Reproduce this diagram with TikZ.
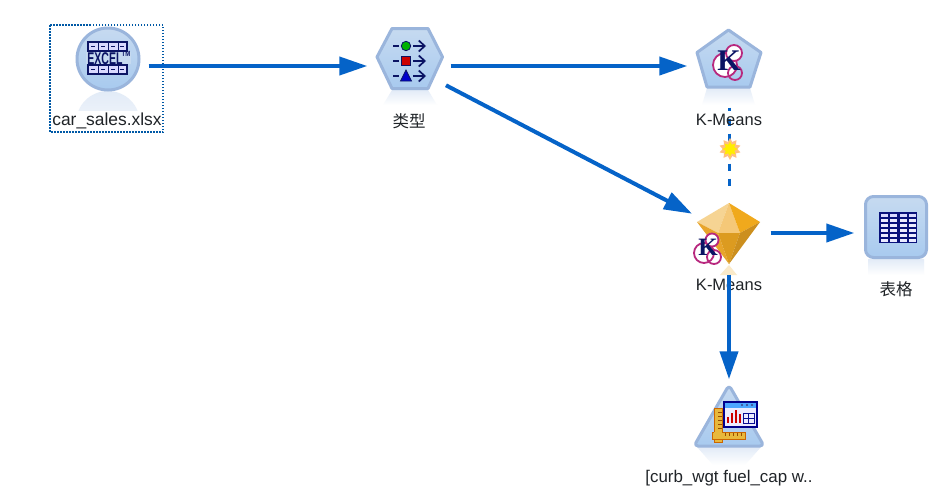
\documentclass[tikz,border=0pt]{standalone}
\usepackage{fontspec}
\setmainfont{Liberation Sans}
\newfontfamily\cjkfont{Noto Sans CJK SC}
\newfontfamily\kfont{Liberation Serif}
\usetikzlibrary{arrows.meta,shapes.geometric}
\definecolor{flow}{HTML}{0563C8}
\definecolor{navy}{HTML}{0B1464}
\definecolor{rim}{HTML}{9AB5DC}
\definecolor{ink}{HTML}{202428}
\definecolor{ringc}{HTML}{B8287E}
\definecolor{refl}{HTML}{E2EBF7}
\definecolor{bodytop}{HTML}{C6DAF0}
\definecolor{bodybot}{HTML}{A8CAEF}
\definecolor{gemA}{HTML}{F6D493}
\definecolor{gemB}{HTML}{F5C878}
\definecolor{gemC}{HTML}{F0A91C}
\definecolor{gemD}{HTML}{E8A52B}
\definecolor{gemE}{HTML}{DC9B20}
\definecolor{gemF}{HTML}{CC8F1E}
\definecolor{ruler}{HTML}{E8B83C}
\tikzset{
  port/.style={circle,minimum size=83pt,inner sep=0pt},
  flowline/.style={draw=flow,line width=4pt,-{Triangle[length=28pt,width=18pt]}},
  linkline/.style={draw=flow,line width=3pt,dash pattern=on 7.5pt off 7.5pt,dash phase=4pt},
  lab/.style={font=\fontsize{#1}{18}\selectfont,text=ink,inner sep=0pt,anchor=base},
  cjklab/.style={font=\cjkfont\fontsize{16.5}{18}\selectfont,text=ink,inner sep=0pt},
  body/.style={draw=rim,line width=3pt,line join=round,top color=bodytop,bottom color=bodybot},
  mirror/.style={top color=refl,bottom color=white,draw=none},
  ring/.style={draw=ringc,line width=1.8pt},
  klet/.style={font=\kfont\bfseries\fontsize{#1}{#1}\selectfont,text=navy,inner sep=0pt},
}
\begin{document}
\begin{tikzpicture}[x=1pt,y=-1pt]
\useasboundingbox (0,0) rectangle (942,493);
\fill[white] (0,0) rectangle (942,493);

% logical ports for connectors
\node[port] (src)  at (107,66) {};
\node[port] (typ)  at (409,66) {};
\node[port] (km)   at (729,66) {};
\node[port] (gem)  at (729,233) {};
\node[port] (tab)  at (896,233) {};
\node[port] (out)  at (729,421) {};

% ---------- excel source
\draw[draw=teal!70!blue,line width=1.2pt,dash pattern=on 1.5pt off 1.5pt] (50,25) rectangle (163,132);
\begin{scope}
  \clip (60,91) rectangle (156,110);
  \shade[mirror] (108,123) circle (32);
\end{scope}
\shade[body] (108,59) circle (31);
\fill[white!85!blue] (88,42) rectangle (127,74);
\draw[navy,line width=1.4pt] (88,42) rectangle (127,51) (88,65) rectangle (127,74);
\foreach \xx in {98,108,118}{\draw[navy,line width=1pt] (\xx,42) -- (\xx,51) (\xx,65) -- (\xx,74);}
\foreach \xx/\yy in {93/46.5,103/46.5,113/46.5,122/46.5,93/69.5,103/69.5,113/69.5,122/69.5}{\draw[navy,line width=1pt] (\xx-2,\yy) -- (\xx+2,\yy);}
\fill[bodytop] (86,52) rectangle (131,64.3);
\node[inner sep=0pt,text=navy,font=\bfseries\fontsize{17}{17}\selectfont] (xlword) at (105,58.5) {\scalebox{.62}[1]{EXCEL}};
\node[inner sep=0pt,text=navy,font=\bfseries\fontsize{7.5}{7.5}\selectfont] (xltm) at (126,54) {\scalebox{.8}[1]{TM}};
\node[lab=17.4] (srclab) at (107,125) {car\_sales.xlsx};

% ---------- type hexagon
\shade[mirror] (392,90) -- (428,90) -- (437,105) -- (383,105) -- cycle;
\shade[body] (392,28.5) -- (428,28.5) -- (442.5,57) -- (428,88.5) -- (392,88.5) -- (377,57) -- cycle;
\foreach \yy in {46,61,76}{
  \draw[navy,line width=1.7pt] (393,\yy) -- (399,\yy);
  \draw[navy,line width=1.7pt,-{Straight Barb[length=6pt,width=11pt]}] (413,\yy) -- (426,\yy);
}
\fill[green!70!black,draw=navy,line width=.8pt] (406,46) circle (4.7);
\fill[red!80!black,draw=navy,line width=.8pt] (401.5,56.5) rectangle (410.5,65.5);
\fill[blue!80!black,draw=navy,line width=.8pt] (406,70) -- (411.5,81) -- (400.5,81) -- cycle;
\node[cjklab] (typlab) at (409,121) {类型};

% ---------- K-Means model source (pentagon)
\shade[mirror] (707,88) -- (750,88) -- (755,105) -- (702,105) -- cycle;
\shade[body] (728.5,30) -- (761,52.5) -- (750,87) -- (707,87) -- (697,52.5) -- cycle;
\draw[ring,fill=white] (725,65) circle (12);
\draw[ring,fill=white] (734,53) circle (8);
\draw[ring] (735,73) circle (7);
\node[klet=30] (klet) at (729,61) {K};

% ---------- K-Means nugget (gem)
\fill[gemA!50!white] (729,265) -- (737,275) -- (720,275) -- cycle;
\fill[gemA] (729,203) -- (718,233) -- (697,222) -- cycle;
\fill[gemB] (729,203) -- (740,233) -- (718,233) -- cycle;
\fill[gemC] (729,203) -- (760,222) -- (740,233) -- cycle;
\fill[gemD] (697,222) -- (718,233) -- (729,264) -- cycle;
\fill[gemE] (718,233) -- (740,233) -- (729,264) -- cycle;
\fill[gemF] (740,233) -- (760,222) -- (729,264) -- cycle;
\draw[ring,fill=white] (704,253) circle (10);
\draw[ring,fill=white] (712,240) circle (6.5);
\draw[ring] (714,257) circle (7);
\node[klet=25] (klet2) at (708,247) {K};

% ---------- table
\shade[mirror] (868,259) rectangle (924,275);
\shade[body,rounded corners=8pt] (865.5,196.5) rectangle (926.5,257.5);
\fill[navy!85!blue] (879,212) rectangle (917,243);
\foreach \xx in {880.5,890,899.5,909}{
  \fill[blue!15!white] (\xx,213.5) rectangle ++(7,3.5);
  \foreach \yy in {219,224,229,234,239}{\fill[blue!8!white] (\xx,\yy) rectangle ++(7,3.2);}
}
\node[cjklab] (tablab) at (896,289) {表格};

% ---------- output triangle
\shade[mirror] (697,447) -- (761,447) -- (745,465) -- (713,465) -- cycle;
\shade[body,rounded corners=4pt] (729,385) -- (764,446) -- (694,446) -- cycle;
\fill[ruler,draw=orange!80!black,line width=.6pt] (714,408) rectangle (722,442);
\fill[ruler,draw=orange!80!black,line width=.6pt] (712,432) rectangle (745,439);
\fill[ruler] (714.4,432.4) rectangle (721.6,438.6);
\foreach \yy in {412,416,...,428}{\draw[orange!60!black,line width=.6pt] (718,\yy) -- (721.5,\yy);}
\foreach \xx in {725,729,...,741}{\draw[orange!60!black,line width=.6pt] (\xx,432.5) -- (\xx,436);}
\fill[blue!8!white,draw=blue!55!black,line width=1.2pt] (724,402) rectangle (757,427);
\fill[blue!50!cyan!70!white] (724.6,402.6) rectangle (756.4,408);
\foreach \xx/\hh in {728/6,732/10,736/13,740/9}{\fill[red!80!black] (\xx-1.4,423) rectangle (\xx+1.4,423-\hh);}
\draw[navy!70!blue,line width=.9pt] (743,413) rectangle (754,423) (743,418) -- (754,418) (748.5,413) -- (748.5,423);
\foreach \xx in {742,747,752}{\fill[navy!80!white] (\xx,405) circle (1.1);}
\node[lab=16.9] (outlab) at (729,482) {[curb\_wgt fuel\_cap w..};

% ---------- connectors
\path[flowline] (src) -- (typ);
\path[flowline] (typ) -- (km);
\path[flowline] (typ) -- (gem);
\path[flowline] (gem) -- (tab);
\draw[linkline] (km) -- (gem);
\node[lab=16.5] (kmlab) at (729,125.5) {K-Means};
\node[lab=16.5] (gemlab) at (729,290.5) {K-Means};
\path[flowline] (gem) -- (out);
% link marker
\node[star,star points=10,star point ratio=1.5,minimum size=22pt,inner sep=0pt,fill=orange!50!white] (spark) at (730,149) {};
\node[star,star points=8,star point ratio=1.6,minimum size=15pt,inner sep=0pt,fill=yellow!95!orange] (sparkc) at (730,149) {};
\end{tikzpicture}
\end{document}
